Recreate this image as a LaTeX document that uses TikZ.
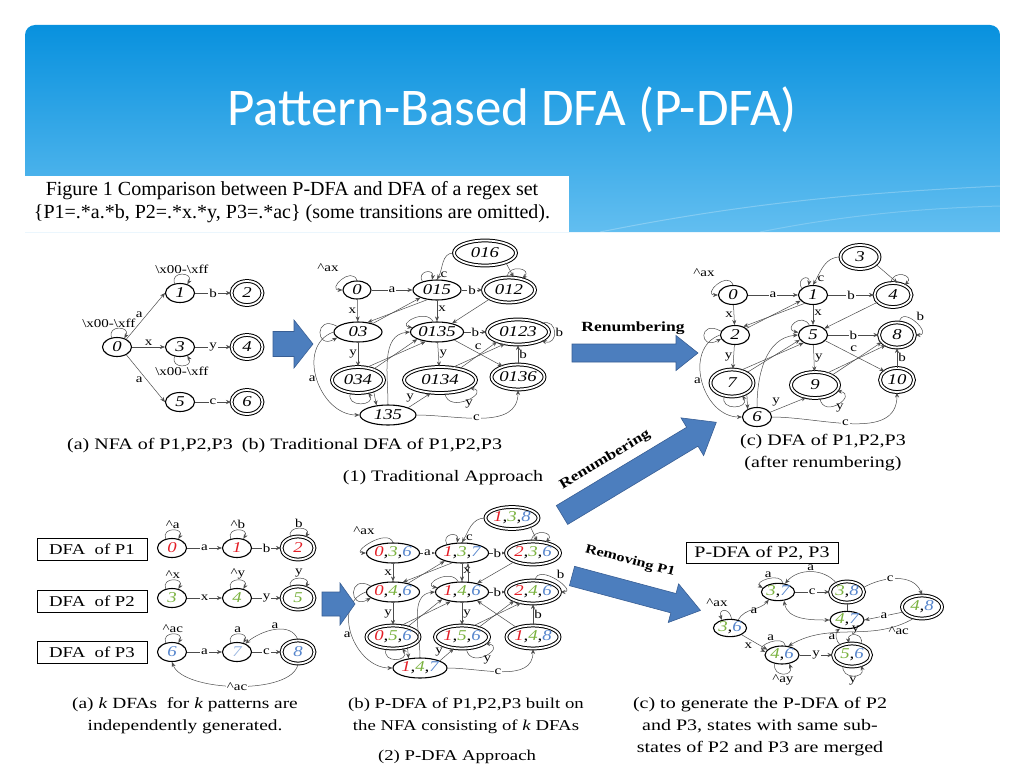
\documentclass[tikz,border=0pt]{standalone}
\usepackage{fontspec}
\setmainfont{Liberation Serif}
\newfontfamily\titlefont{Carlito}
\newfontfamily\figfont[FakeStretch=1.25]{Liberation Serif}
\usetikzlibrary{shapes.geometric, arrows.meta, positioning}

\definecolor{slidetop}{RGB}{8,145,222}
\definecolor{slidebot}{RGB}{98,190,240}
\definecolor{bigblue}{RGB}{76,126,190}
\definecolor{bigrim}{RGB}{56,94,148}
\definecolor{subred}{RGB}{228,30,38}
\definecolor{subgreen}{RGB}{122,178,62}
\definecolor{subblue}{RGB}{84,132,204}

% coloured sub-state labels
\newcommand{\subtri}[3]{\textcolor{subred}{#1},\textcolor{subgreen}{#2},\textcolor{subblue}{#3}}
\newcommand{\subduo}[2]{\textcolor{subgreen}{#1},\textcolor{subblue}{#2}}
% block arrow: tail x, tail y, angle, length, shaft half width, head half width, head length
\newcommand{\blockarrow}[7]{%
  \filldraw[fill=bigblue, draw=bigrim, line width=0.6pt, shift={(#1,#2)}, rotate=#3]
    (0,-#5) -- (#4-#7,-#5) -- (#4-#7,-#6) -- (#4,0) -- (#4-#7,#6) -- (#4-#7,#5) -- (0,#5) -- cycle;}

\begin{document}
\begin{tikzpicture}[x=1pt, y=1pt,
    state/.style={ellipse, draw, line width=1.1pt, inner sep=0pt, minimum width=29pt, minimum height=19pt,
      font=\figfont\itshape\fontsize{15}{15}\selectfont},
    accept/.style={state, line width=1pt, double, double distance=1.8pt},
    wide/.style={minimum width=48pt, minimum height=20pt},
    trans/.style={->, >={Stealth[length=5pt, width=4pt]}, draw=black!70, line width=0.5pt},
    lbl/.style={inner sep=1pt, font=\figfont\fontsize{12}{12}\selectfont},
    inl/.style={lbl, fill=white, midway},
    capt/.style={align=center, font=\figfont\fontsize{16}{22}\selectfont},
    namebox/.style={rectangle, draw, line width=0.9pt, minimum width=110pt, minimum height=22pt,
      font=\figfont\fontsize{15}{15}\selectfont},
    bold/.style={font=\figfont\bfseries\fontsize{14}{14}\selectfont}
  ]
\useasboundingbox (0,0) rectangle (1024,-768);
\fill[white] (0,0) rectangle (1024,-768);

% slide header
\shade[top color=slidetop, bottom color=slidebot] (25,-232) [rounded corners=10pt] -- (25,-25) -- (1000,-25) [sharp corners] -- (1000,-232) -- cycle;
\draw[white, opacity=0.25, line width=1pt] (600,-232) .. controls (760,-200) and (880,-192) .. (1000,-186);
\draw[white, opacity=0.2, line width=1pt] (760,-232) .. controls (850,-214) and (930,-208) .. (1000,-206);
\fill[white] (25,-176) rectangle (569,-232);
\node[text=white, font=\titlefont\fontsize{53}{53}\selectfont] (title) at (512,-110) {Pattern-Based DFA (P-DFA)};
\node[align=center, font=\fontsize{20}{23}\selectfont] (figcap) at (292,-202)
  {Figure 1 Comparison between P-DFA and DFA of a regex set\\\{P1=.*a.*b, P2=.*x.*y, P3=.*ac\} (some transitions are omitted).};

% (a) NFA
\node[state] (n0) at (117,-347) {0};
\node[state] (n1) at (180,-293) {1};
\node[accept, minimum width=31pt, minimum height=24pt] (n2) at (247,-293) {2};
\node[state] (n3) at (180,-347) {3};
\node[accept, minimum width=31pt, minimum height=24pt] (n4) at (247,-347) {4};
\node[state] (n5) at (180,-402) {5};
\node[accept, minimum width=31pt, minimum height=24pt] (n6) at (247,-402) {6};

\draw[trans] (n0.120) to[out=110, in=60, min distance=14pt] node[lbl, above, xshift=-10pt] {\textbackslash x00-\textbackslash xff} (n0.50);
\draw[trans] (n1.120) to[out=110, in=60, min distance=14pt] node[lbl, above] {\textbackslash x00-\textbackslash xff} (n1.50);
\draw[trans] (n3.-120) to[out=-110, in=-60, min distance=14pt] node[lbl, below] {\textbackslash x00-\textbackslash xff} (n3.-50);
\draw[trans] (n0.40) -- node[lbl, above left, pos=0.45] {a} (n1.west);
\draw[trans] (n0) -- node[lbl, above] {x} (n3);
\draw[trans] (n0.-40) -- node[lbl, below left, pos=0.45] {a} (n5.west);
\draw[trans] (n1) -- node[inl] {b} (n2);
\draw[trans] (n3) -- node[inl] {y} (n4);
\draw[trans] (n5) -- node[inl] {c} (n6);

% (b) traditional DFA
\node[state, minimum width=28pt, minimum height=18pt] (t-0) at (357,-290) {0};
\node[state, wide] (t-015) at (437,-290) {015};
\node[accept, minimum width=52pt, minimum height=25pt] (t-012) at (509,-290) {012};
\node[accept, minimum width=62pt, minimum height=25pt] (t-016) at (485,-253) {016};
\node[state, wide] (t-03) at (358,-332) {03};
\node[state, wide] (t-0135) at (437,-332) {0135};
\node[accept, minimum width=62pt, minimum height=25pt] (t-0123) at (518,-332) {0123};
\node[accept, minimum width=52pt, minimum height=26pt] (t-034) at (358,-380) {034};
\node[accept, minimum width=72pt, minimum height=26pt] (t-0134) at (440,-380) {0134};
\node[accept, minimum width=53pt, minimum height=25pt] (t-0136) at (518,-377) {0136};
\node[state, minimum width=56pt, minimum height=20pt] (t-135) at (388,-415) {135};

% (c) DFA after renumbering
\node[state] (r-0) at (733,-295) {0};
\node[state] (r-015) at (813,-295) {1};
\node[accept, minimum width=37pt, minimum height=24pt] (r-012) at (893,-295) {4};
\node[accept, minimum width=39pt, minimum height=24pt] (r-016) at (860,-257) {3};
\node[state] (r-03) at (735,-335) {2};
\node[state] (r-0135) at (813,-335) {5};
\node[accept, minimum width=36pt, minimum height=25pt] (r-0123) at (897,-335) {8};
\node[accept, minimum width=43pt, minimum height=27pt] (r-034) at (732,-383) {7};
\node[accept, minimum width=48pt, minimum height=26pt] (r-0134) at (815,-385) {9};
\node[accept, minimum width=34pt, minimum height=24pt] (r-0136) at (897,-380) {10};
\node[state] (r-135) at (757,-417) {6};

% (b) P-DFA of P1,P2,P3
\node[state, wide] (p-0) at (393,-553) {\subtri{0}{3}{6}};
\node[state, wide] (p-015) at (462,-553) {\subtri{1}{3}{7}};
\node[accept, minimum width=54pt, minimum height=23pt] (p-012) at (533,-553) {\subtri{2}{3}{6}};
\node[accept, minimum width=52pt, minimum height=22pt] (p-016) at (512,-518) {\subtri{1}{3}{8}};
\node[state, wide] (p-03) at (393,-592) {\subtri{0}{4}{6}};
\node[state, wide] (p-0135) at (462,-592) {\subtri{1}{4}{6}};
\node[accept, minimum width=54pt, minimum height=23pt] (p-0123) at (533,-592) {\subtri{2}{4}{6}};
\node[accept, minimum width=50pt, minimum height=23pt] (p-034) at (393,-637) {\subtri{0}{5}{6}};
\node[accept, minimum width=54pt, minimum height=23pt] (p-0134) at (462,-637) {\subtri{1}{5}{6}};
\node[accept, minimum width=52pt, minimum height=23pt] (p-0136) at (533,-637) {\subtri{1}{4}{8}};
\node[state, minimum width=54pt, minimum height=20pt] (p-135) at (420,-668) {\subtri{1}{4}{7}};

% same transitions in the three DFAs
\foreach \g/\lo/\li/\la in {t/20/-20/west, r/80/0/south west, p/80/0/south west} {
  \draw[trans] (\g-0.north) to[out=110, in=180, min distance=16pt] (\g-0.west);
  \node[lbl] (\g-ax) at ([shift={(-29,22)}]\g-0) {\textasciicircum ax};
  \draw[trans] (\g-0) -- node[inl] {a} (\g-015);
  \draw[trans] (\g-015) -- node[inl] {b} (\g-012);
  \draw[trans] (\g-0) -- node[lbl, left] {x} (\g-03);
  \draw[trans] (\g-015) -- node[lbl, right, pos=0.4] {x} (\g-0135);
  \draw[trans] (\g-0135) -- node[inl] {b} (\g-0123);
  \draw[trans] (\g-03) -- node[lbl, left] {y} (\g-034);
  \draw[trans] (\g-0135) -- node[lbl, right] {y} (\g-0134);
  \draw[trans] (\g-0136) -- node[lbl, right] {b} (\g-0123);
  \draw[trans] (\g-016.west) to[out=180, in=60] node[lbl, pos=0.85, right] {c} (\g-015.north);
  \draw[trans] (\g-015.150) to[out=120, in=80, min distance=12pt] (\g-015.115);
  \draw[trans] (\g-016.-25) -- (\g-012.70);
  \draw[trans] (\g-012.100) to[out=80, in=45, min distance=14pt] (\g-012.40);
  \draw[trans] (\g-0123.\lo) to[out=\lo, in=\li, min distance=18pt] node[lbl, anchor=\la] {b} (\g-0123.\li);
  \draw[trans] (\g-03.165) to[out=150, in=210, min distance=26pt] (\g-03.195);
  \draw[trans] (\g-0135.110) to[out=120, in=170, min distance=16pt] (\g-0135.170);
  \draw[trans] (\g-034.240) to[out=-110, in=-60, min distance=16pt] (\g-034.-50);
  \draw[trans] (\g-0134.-70) to[out=-80, in=-10, min distance=22pt] node[lbl, pos=0.55, below] {y} (\g-0134.-15);
  \draw[trans] (\g-03.30) -- (\g-015.205);
  \draw[trans] (\g-015.225) -- (\g-03.45);
  \draw[trans] (\g-012.205) -- (\g-0135.30);
  \draw[trans] (\g-034.35) -- (\g-0135.200);
  \draw[trans] (\g-034.55) -- (\g-0135.220);
  \draw[trans] (\g-0134.30) -- (\g-0123.205);
  \draw[trans] (\g-0134.45) -- (\g-0123.222);
  \draw[trans] (\g-135.north) to[out=90, in=185] (\g-0135.west);
  \draw[trans] (\g-135.20) -- node[lbl, pos=0.3, above left] {y} (\g-0134.235);
  \draw[trans] (\g-135.east) to[out=0, in=-90] node[inl, pos=0.45] {c} (\g-0136.south);
  \draw[trans] (\g-03.west) to[out=200, in=180, looseness=1.2] node[lbl, left] {a} (\g-135.west);
  \draw[trans] (\g-034.-35) -- (\g-135.140);
}
\foreach \g in {t,r}
  \draw[trans] (\g-0135.-25) -- node[lbl, above right, pos=0.4] {c} (\g-0136.145);
\draw[trans] (p-0136.150) -- (p-0135.-30);
\draw[trans] (p-0135.60) -- (p-015.-60);

% (a) k DFAs
\node[namebox] (boxP1) at (92,-549) {DFA\ \ of P1};
\node[namebox] (boxP2) at (92,-601) {DFA\ \ of P2};
\node[namebox] (boxP3) at (92,-652) {DFA\ \ of P3};
\node[state] (d0) at (172,-548) {\textcolor{subred}{0}};
\node[state] (d1) at (237,-548) {\textcolor{subred}{1}};
\node[accept, minimum width=33pt, minimum height=23pt] (d2) at (298,-548) {\textcolor{subred}{2}};
\node[state] (d3) at (172,-598) {\textcolor{subgreen}{3}};
\node[state] (d4) at (237,-598) {\textcolor{subgreen}{4}};
\node[accept, minimum width=33pt, minimum height=23pt] (d5) at (298,-598) {\textcolor{subgreen}{5}};
\node[state] (d6) at (172,-652) {\textcolor{subblue}{6}};
\node[state] (d7) at (237,-652) {\textcolor{subblue!60}{7}};
\node[accept, minimum width=33pt, minimum height=23pt] (d8) at (298,-652) {\textcolor{subblue}{8}};

\foreach \s/\t in {d0/\textasciicircum a, d1/\textasciicircum b, d2/b, d3/\textasciicircum x, d4/\textasciicircum y, d5/y, d6/\textasciicircum ac, d7/a}
  \draw[trans] (\s.125) to[out=110, in=60, min distance=13pt] node[lbl, above] {\t} (\s.55);
\draw[trans] (d0) -- node[inl] {a} (d1);
\draw[trans] (d1) -- node[inl] {b} (d2);
\draw[trans] (d3) -- node[inl] {x} (d4);
\draw[trans] (d4) -- node[inl] {y} (d5);
\draw[trans] (d6) -- node[inl] {a} (d7);
\draw[trans] (d7) -- node[inl] {c} (d8);
\draw[trans] (d8.north) to[out=110, in=40] node[lbl, above] {a} (d7.45);
\draw[trans] (d8.south) to[out=-100, in=-70, looseness=0.65] node[inl] {\textasciicircum ac} (d6.south);

% (c) P-DFA of P2, P3
\node[namebox, minimum width=152pt, minimum height=21pt, font=\figfont\fontsize{16}{16}\selectfont] (boxP23) at (762,-553) {P-DFA of P2, P3};
\node[state, minimum width=30pt, minimum height=17pt] (m36) at (730,-628) {\subduo{3}{6}};
\node[state, minimum width=28pt, minimum height=17pt] (m37) at (778,-592) {\subduo{3}{7}};
\node[accept, minimum width=34pt, minimum height=21pt] (m38) at (847,-592) {\subduo{3}{8}};
\node[accept, minimum width=40pt, minimum height=23pt] (m48) at (922,-607) {\subduo{4}{8}};
\node[state, minimum width=34pt, minimum height=17pt] (m47) at (847,-620) {\subduo{4}{7}};
\node[state, minimum width=34pt, minimum height=18pt] (m46) at (782,-655) {\subduo{4}{6}};
\node[accept, minimum width=38pt, minimum height=23pt] (m56) at (852,-655) {\subduo{5}{6}};

\draw[trans] (m36.80) to[out=100, in=110, min distance=12pt] (m36.135);
\node[lbl] (m36-ax) at (717,-603) {\textasciicircum ax};
\draw[trans] (m36.45) to[out=60, in=230] node[lbl, right, pos=0.4] {a} (m37.220);
\draw[trans] (m36) -- node[lbl, below left, pos=0.45] {x} (m46.160);
\draw[trans] (m37.60) to[out=100, in=150, min distance=12pt] node[lbl, above] {a} (m37.165);
\draw[trans] (m38.140) to[out=130, in=50] node[lbl, above] {a} (m37.50);
\draw[trans] (m37) -- node[inl] {c} (m38);
\draw[trans] (m38.15) to[out=30, in=110] node[inl, pos=0.4] {c} (m48.north);
\draw[trans, -] (m38) -- (m47);
\draw[trans] (m48.195) -- node[inl] {a} (m47.east);
\draw[trans] (m48.235) to[out=210, in=30] node[lbl, pos=0.12, below] {\textasciicircum ac} (m46.55);
\draw[trans, <->] (m37.-55) to[out=-80, in=180] (m47.west);
\draw[trans] (m46.70) to[out=100, in=150, min distance=12pt] node[lbl, above] {a} (m46.170);
\draw[trans] (m56.140) to[out=140, in=-140] node[lbl, left] {a} (m47.-130);
\draw[trans] (m56.50) to[out=70, in=100, min distance=12pt] node[lbl, above] {y} (m56.105);
\draw[trans] (m46) -- node[inl] {y} (m56);
\draw[trans] (m46.-130) to[out=-100, in=-70, min distance=14pt] node[lbl, below] {\textasciicircum ay} (m46.-50);
\draw[trans] (m56.-130) to[out=-100, in=-70, min distance=14pt] node[lbl, below] {y} (m56.-50);

% block arrows and their words
\blockarrow{273}{-344}{0}{40}{12.5}{24}{19}
\blockarrow{572}{-353}{0}{126}{9}{17.5}{22}
\node[bold] (ren1) at (633,-328) {Renumbering};
\blockarrow{562}{-515}{31}{180}{11}{22}{28}
\node[bold, rotate=31] (ren2) at (605,-460) {Renumbering};
\blockarrow{322}{-604}{0}{33}{12}{21}{15}
\blockarrow{572}{-576}{-15}{133}{10}{20}{28}
\node[bold, font=\figfont\bfseries\fontsize{13}{13}\selectfont, rotate=-15] (remove) at (630,-561) {Removing P1};

% captions
\node[capt] (capNFA) at (150,-446) {(a) NFA of P1,P2,P3};
\node[capt] (capTrad) at (372,-446) {(b) Traditional DFA of P1,P2,P3};
\node[capt] (capApp1) at (443,-478) {(1) Traditional Approach};
\node[capt] (capRen) at (823,-453) {(c) DFA of P1,P2,P3\\(after renumbering)};
\node[capt, font=\figfont\fontsize{15.5}{22}\selectfont] (capK) at (185,-716) {(a) \textit{k} DFAs\ \ for \textit{k} patterns are\\independently generated.};
\node[capt, font=\figfont\fontsize{15}{22}\selectfont] (capP) at (466,-716) {(b) P-DFA of P1,P2,P3 built on\\the NFA consisting of \textit{k} DFAs};
\node[capt, font=\figfont\fontsize{16}{22}\selectfont] (capM) at (760,-727) {(c) to generate the P-DFA of P2\\and P3, states with same sub-\\states of P2 and P3 are merged};
\node[capt, font=\figfont\fontsize{15}{22}\selectfont] (capApp2) at (457,-757) {(2) P-DFA Approach};
\end{tikzpicture}
\end{document}
